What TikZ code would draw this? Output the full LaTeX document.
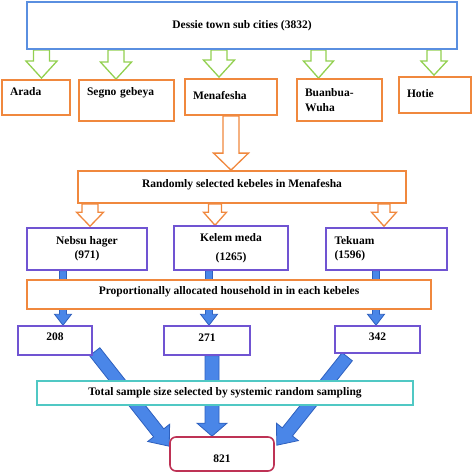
\documentclass[tikz,border=0pt]{standalone}
\usepackage{fontspec}
\setmainfont{Liberation Serif}
\usepackage{xcolor}
\usepackage{tikz}
\usetikzlibrary{calc}

\definecolor{topblue}{RGB}{90,143,224}
\definecolor{subgreen}{RGB}{146,208,80}
\definecolor{boxorange}{RGB}{240,136,62}
\definecolor{boxpurple}{RGB}{112,84,210}
\definecolor{boxteal}{RGB}{80,200,196}
\definecolor{boxred}{RGB}{190,50,85}
\definecolor{arrowblue}{RGB}{74,134,232}
\definecolor{arrowedge}{RGB}{46,96,190}

\pgfdeclarelayer{back}
\pgfsetlayers{back,main}

% block arrow: style, from, to, shaft half width, head half width, head length
\newcommand{\blockarrow}[6]{%
  \coordinate (ba-head) at ($(#3)!#6!(#2)$);
  \draw[#1] ($(#2)!#4!90:(#3)$) -- ($(ba-head)!#4!90:(#3)$) -- ($(ba-head)!#5!90:(#3)$) -- (#3)
    -- ($(ba-head)!#5!-90:(#3)$) -- ($(ba-head)!#4!-90:(#3)$) -- ($(#2)!#4!-90:(#3)$) -- cycle;
}

\begin{document}
\begin{tikzpicture}[x=1pt, y=-1pt,
  every node/.style={font=\fontsize{11.5}{13.8}\selectfont\bfseries},
  topbox/.style={draw=topblue, line width=2.2pt, fill=white, minimum width=430pt, minimum height=47pt},
  obox/.style={draw=boxorange, line width=1.8pt, fill=white, inner xsep=8pt, align=left},
  pbox/.style={draw=boxpurple, line width=1.5pt, fill=white, inner xsep=8pt},
  tbox/.style={draw=boxteal, line width=1.8pt, fill=white},
  rbox/.style={draw=boxred, line width=1.6pt, fill=white, rounded corners=6pt},
  garrow/.style={draw=subgreen, line width=1.3pt, fill=white},
  oarrow/.style={draw=boxorange, line width=1.3pt, fill=white},
  barrow/.style={draw=arrowedge, line width=0.8pt, fill=arrowblue}
]
\useasboundingbox (0,0) rectangle (474,476);

\node[topbox] (top) at (242,25.5) {Dessie town sub cities (3832)};

\node[obox, minimum width=68pt, minimum height=35pt, text width=52pt, text depth=11pt] (arada) at (36,97.5) {Arada};
\node[obox, minimum width=95pt, minimum height=41pt, text width=79pt, text depth=17pt] (segno) at (126.5,100.5) {Segno gebeya};
\node[obox, minimum width=92pt, minimum height=36pt, text width=76pt, text depth=4pt] (mena) at (231,97) {Menafesha};
\node[obox, minimum width=85pt, minimum height=42pt, text width=69pt] (buan) at (339.5,100) {Buanbua-\\[1pt]Wuha};
\node[obox, minimum width=72pt, minimum height=36pt, text width=56pt, text depth=2pt] (hotie) at (435,95) {Hotie};

\node[obox, align=center, minimum width=328pt, minimum height=32pt, text depth=8pt] (rand) at (242,187) {Randomly selected kebeles in Menafesha};

\node[pbox, align=center, minimum width=120pt, minimum height=42pt] (neb) at (87,249) {Nebsu hager\\(971)};
\node[pbox, align=center, minimum width=114pt, minimum height=44pt] (kel) at (231,248) {Kelem meda\\[5pt](1265)};
\node[pbox, align=left, minimum width=121pt, minimum height=42pt, text width=104pt] (tek) at (386.5,249) {Tekuam\\(1596)};

\node[obox, align=center, minimum width=404pt, minimum height=29pt, text depth=7pt] (prop) at (229,294.5) {Proportionally allocated household in in each kebeles};

\node[pbox, minimum width=74pt, minimum height=29pt, text depth=7pt] (n208) at (55,340.5) {208};
\node[pbox, minimum width=86pt, minimum height=29pt, text depth=5pt] (n271) at (207,340.5) {271};
\node[pbox, minimum width=85pt, minimum height=27pt, text depth=5pt] (n342) at (377.5,339.5) {342};

\node[tbox, minimum width=376pt, minimum height=24pt] (total) at (225,393) {Total sample size selected by systemic random sampling};

\node[rbox, minimum width=104pt, minimum height=34pt, text height=17pt] (n821) at (222,454) {821};

\begin{pgfonlayer}{back}
% sub cities
\coordinate (g1) at ($(arada.north)+(5.5,-1)$);
\coordinate (g2) at ($(segno.north)+(-10.5,0)$);
\coordinate (g3) at ($(mena.north)+(-12,-1)$);
\coordinate (g4) at ($(buan.north)+(-21,0)$);
\coordinate (g5) at ($(hotie.north)+(-1,-1)$);
\blockarrow{garrow}{top.south -| g1}{g1}{8pt}{15.5pt}{17pt}
\blockarrow{garrow}{top.south -| g2}{g2}{8pt}{15.5pt}{17pt}
\blockarrow{garrow}{top.south -| g3}{g3}{8pt}{15.5pt}{17pt}
\blockarrow{garrow}{top.south -| g4}{g4}{7.5pt}{15pt}{17pt}
\blockarrow{garrow}{top.south -| g5}{g5}{7pt}{13pt}{14pt}

% kebeles
\blockarrow{oarrow}{mena.south}{mena.south |- rand.north}{8pt}{17.5pt}{17pt}
\coordinate (o1) at ($(neb.north)+(3,-1)$);
\coordinate (o2) at ($(kel.north)+(-16,0)$);
\coordinate (o3) at ($(tek.north)+(-2.5,-1)$);
\blockarrow{oarrow}{rand.south -| o1}{o1}{8pt}{13.5pt}{14pt}
\blockarrow{oarrow}{rand.south -| o2}{o2}{6.5pt}{11.5pt}{13pt}
\blockarrow{oarrow}{rand.south -| o3}{o3}{6pt}{12.5pt}{14pt}

% households
\coordinate (b1) at ($(neb.south)+(-24,0)$);
\coordinate (b2) at ($(kel.south)+(-22,0)$);
\coordinate (b3) at ($(tek.south)+(-10.5,0)$);
\blockarrow{barrow}{b1}{b1 |- n208.north}{3.5pt}{8.5pt}{11pt}
\blockarrow{barrow}{b2}{b2 |- n271.north}{3.5pt}{8.5pt}{11pt}
\blockarrow{barrow}{b3}{b3 |- n342.north}{3.5pt}{8.5pt}{11pt}

% total
\coordinate (t1) at ($(n208.south east)+(2,-4)$);
\coordinate (t2) at ($(n271.south)+(5,0)$);
\coordinate (t3) at ($(n342.south west)+(13,3)$);
\blockarrow{barrow}{t1}{$(n821.north west)+(0,10)$}{6.5pt}{14pt}{17pt}
\blockarrow{barrow}{t2}{t2 |- n821.north}{7pt}{15pt}{13pt}
\blockarrow{barrow}{t3}{$(n821.north east)+(2,9)$}{6.5pt}{14pt}{17pt}
\end{pgfonlayer}
\end{tikzpicture}
\end{document}
